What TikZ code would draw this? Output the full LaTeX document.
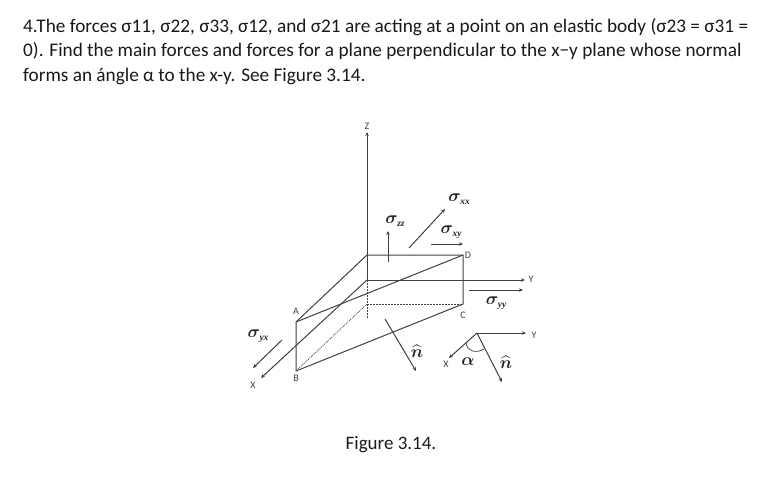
\documentclass[tikz,border=0pt]{standalone}
\usepackage{amsmath}
\usepackage{bm}
\usepackage{fontspec}
\setmainfont{Carlito}
\newfontfamily\subfont{Liberation Serif}
\usepackage{tikz}
\usetikzlibrary{arrows.meta, positioning}
\newcommand{\stress}[1]{$\bm{\sigma}$\kern-0.5pt\raisebox{-3.5pt}{\fontsize{9.5}{9.5}\subfont\bfseries\itshape #1}}
\tikzset{
	edgeline/.style={draw=black!75, line width=1pt},
	dashline/.style={draw=black!75, line width=0.8pt, dash pattern=on 2pt off 1pt},
	dotline/.style={draw=black!70, line width=0.8pt, dash pattern=on 1pt off 1pt},
	axisline/.style={edgeline, -{Stealth[length=4pt,width=3.5pt]}},
	pointlabel/.style={font=\fontsize{10}{10}\selectfont, text=black!75, inner sep=0pt},
	stresslabel/.style={font=\fontsize{19}{19}\selectfont, text=black!85, inner sep=0pt},
	textline/.style={font=\fontsize{19.25}{19.25}\selectfont, text=black!90, anchor=base west, inner sep=0pt}
}

\begin{document}
\begin{tikzpicture}[x=1pt, y=-1pt]
	\useasboundingbox (0,0) rectangle (757,477);
	
	% problem text
	\node[textline] (line1) at (23,32) {4.The forces σ11, σ22, σ33, σ12, and σ21 are acting at a point on an elastic body (σ23 = σ31 =};
	\node[textline] (line2) at (23,56) {0). Find the main forces and forces for a plane perpendicular to the x−y plane whose normal};
	\node[textline] (line3) at (23,81) {forms an ángle α to the x-y. See Figure 3.14.};
	
	% corners of the wedge
	\coordinate (O) at (367,280);
	\coordinate (T) at (367,255);
	\coordinate (P) at (367,304);
	\coordinate (A) at (296,322);
	\coordinate (B) at (296,371);
	\coordinate (C) at (463,304);
	\coordinate (D) at (463,255);
	
	% axes
	\coordinate (Zend) at (367,132);
	\coordinate (Yend) at (525,280);
	\coordinate (Xend) at (261,378);
	\coordinate (Pend) at (367,319);
	\draw[axisline] (T) -- (Zend);
	\draw[axisline] (O) -- (Yend);
	\draw[axisline] (O) -- (Xend);
	\draw[edgeline] (T) -- (O);
	\draw[dashline] (O) -- (Pend);
	
	% wedge edges
	\draw[edgeline] (T) -- (D) -- (C) -- (B) -- (A) -- (T);
	\draw[edgeline] (A) -- (D);
	\draw[dashline] (P) -- (C);
	\draw[dotline] (P) -- (B);
	
	% stress arrows
	\coordinate (zzS) at (388,262);
	\coordinate (zzE) at (388,231);
	\coordinate (xxS) at (409,248);
	\coordinate (xxE) at (445,209);
	\coordinate (xyS) at (431,244);
	\coordinate (xyE) at (463,244);
	\coordinate (yyS) at (469,290);
	\coordinate (yyE) at (523,290);
	\coordinate (yxS) at (282,340);
	\coordinate (yxE) at (253,368);
	\coordinate (nS) at (385,319);
	\coordinate (nE) at (416,371);
	\draw[axisline] (zzS) -- (zzE);
	\draw[axisline] (xxS) -- (xxE);
	\draw[axisline] (xyS) -- (xyE);
	\draw[axisline] (yyS) -- (yyE);
	\draw[axisline] (yxS) -- (yxE);
	\draw[axisline] (nS) -- (nE);
	
	% small frame with the angle
	\coordinate (o2) at (477,333);
	\coordinate (y2) at (526,333);
	\coordinate (x2) at (449,358);
	\coordinate (n2) at (502,382);
	\draw[axisline] (o2) -- (y2);
	\draw[axisline] (o2) -- (x2);
	\draw[axisline] (o2) -- (n2);
	\draw[edgeline, line width=0.7pt] (466,343) .. controls (467,351) and (476,354) .. (484,349);
	
	% labels
	\node[pointlabel] (labZ) at (367,126) {Z};
	\node[pointlabel] (labY) at (531,279) {Y};
	\node[pointlabel] (labX) at (253,385) {X};
	\node[pointlabel] (labA) at (296,311) {A};
	\node[pointlabel] (labB) at (296,378) {B};
	\node[pointlabel] (labC) at (463,315) {C};
	\node[pointlabel] (labD) at (468,255) {D};
	\node[pointlabel] (labY2) at (534,335) {Y};
	\node[pointlabel] (labX2) at (446,364) {X};
	\node[stresslabel] (labzz) at (395,221) {\stress{zz}};
	\node[stresslabel] (labxx) at (459,199) {\stress{xx}};
	\node[stresslabel] (labxy) at (451,232) {\stress{xy}};
	\node[stresslabel] (labyy) at (496,303) {\stress{yy}};
	\node[stresslabel] (labyx) at (258,336) {\stress{yx}};
	\node[stresslabel] (labn) at (417,351) {$\bm{\widehat{n}}$};
	\node[stresslabel] (labn2) at (506,362) {$\bm{\widehat{n}}$};
	\node[stresslabel] (labalpha) at (468,362) {$\bm{\alpha}$};
	
	% caption
	\node[textline, anchor=center, font=\fontsize{19}{19}\selectfont] (caption) at (391,445) {Figure 3.14.};
\end{tikzpicture}
\end{document}
